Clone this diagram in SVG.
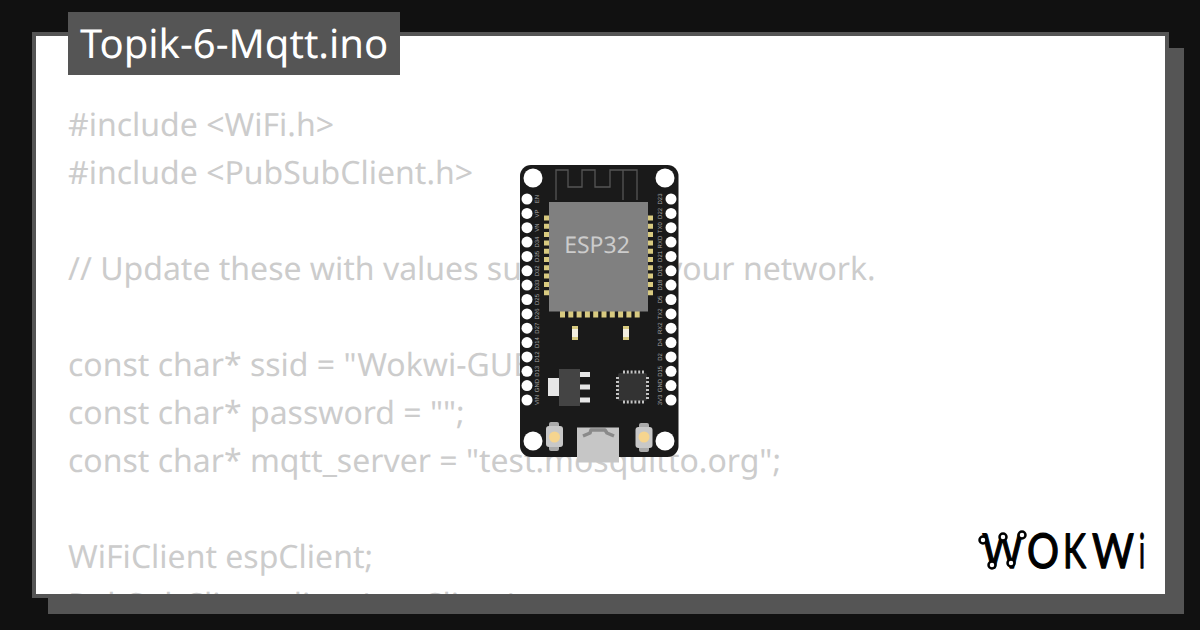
<svg xmlns="http://www.w3.org/2000/svg" width="1200" height="630" viewBox="0 0 1200 630" text-rendering="geometricPrecision">
<style>
.code{font:32px "Noto Sans","Open Sans",sans-serif;fill:#ccc}
.pin{fill:#fff}
.hole{fill:#fff}
.lbl{font:6px "Liberation Sans",sans-serif;fill:#a6a6a6;text-anchor:middle}
.pad{fill:#d8ca80}
.ic{fill:#c4c4c4}
.node{fill:#fff;stroke:#000;stroke-width:2.5}
</style>
<defs>
<clipPath id="panelClip"><rect x="36" y="36" width="1129" height="558"/></clipPath>
</defs>
<rect width="1200" height="630" fill="#111"/>
<rect x="48" y="48" width="1136" height="566" fill="#555"/>
<rect x="34" y="34" width="1133" height="562" fill="#fff" stroke="#555" stroke-width="4"/>
<g id="code" clip-path="url(#panelClip)">
<text class="code" x="68" y="136">#include &lt;WiFi.h&gt;</text>
<text class="code" x="68" y="184">#include &lt;PubSubClient.h&gt;</text>
<text class="code" x="68" y="280">// Update these with values suitable for your network.</text>
<text class="code" x="68" y="376">const char* ssid = "Wokwi-GUEST";</text>
<text class="code" x="68" y="424">const char* password = "";</text>
<text class="code" x="68" y="472">const char* mqtt_server = "test.mosquitto.org";</text>
<text class="code" x="68" y="568">WiFiClient espClient;</text>
<text class="code" x="68" y="616">PubSubClient client(espClient);</text>
</g>
<g id="title">
<rect x="68" y="12" width="332" height="63" fill="#555"/>
<text x="80" y="58" font-family="Noto Sans, Open Sans, sans-serif" font-size="40" fill="#fff">Topik-6-Mqtt.ino</text>
</g>
<g id="board">
<rect x="520" y="165" width="158.500" height="292" rx="11" fill="#1a1a1a"/>
<path d="M556 200V170H568V187H582V170H595V187H610V170H637V200M623 170V200" fill="none" stroke="#555" stroke-width="1.300"/>
<circle class="hole" cx="533" cy="178" r="9.500"/><circle class="hole" cx="665" cy="178" r="9.500"/>
<circle class="hole" cx="533" cy="441" r="9.500"/><circle class="hole" cx="665" cy="441" r="9.500"/>
<g id="pins-left">
<circle class="pin" cx="527" cy="199" r="5.500"/><circle class="pin" cx="527" cy="213.400" r="5.500"/><circle class="pin" cx="527" cy="227.700" r="5.500"/><circle class="pin" cx="527" cy="242.100" r="5.500"/><circle class="pin" cx="527" cy="256.400" r="5.500"/><circle class="pin" cx="527" cy="270.800" r="5.500"/><circle class="pin" cx="527" cy="285.100" r="5.500"/><circle class="pin" cx="527" cy="299.500" r="5.500"/><circle class="pin" cx="527" cy="313.900" r="5.500"/><circle class="pin" cx="527" cy="328.200" r="5.500"/><circle class="pin" cx="527" cy="342.600" r="5.500"/><circle class="pin" cx="527" cy="356.900" r="5.500"/><circle class="pin" cx="527" cy="371.300" r="5.500"/><circle class="pin" cx="527" cy="385.600" r="5.500"/><circle class="pin" cx="527" cy="400" r="5.500"/>
</g>
<g id="pins-right">
<circle class="pin" cx="671" cy="199" r="5.500"/><circle class="pin" cx="671" cy="213.400" r="5.500"/><circle class="pin" cx="671" cy="227.700" r="5.500"/><circle class="pin" cx="671" cy="242.100" r="5.500"/><circle class="pin" cx="671" cy="256.400" r="5.500"/><circle class="pin" cx="671" cy="270.800" r="5.500"/><circle class="pin" cx="671" cy="285.100" r="5.500"/><circle class="pin" cx="671" cy="299.500" r="5.500"/><circle class="pin" cx="671" cy="313.900" r="5.500"/><circle class="pin" cx="671" cy="328.200" r="5.500"/><circle class="pin" cx="671" cy="342.600" r="5.500"/><circle class="pin" cx="671" cy="356.900" r="5.500"/><circle class="pin" cx="671" cy="371.300" r="5.500"/><circle class="pin" cx="671" cy="385.600" r="5.500"/><circle class="pin" cx="671" cy="400" r="5.500"/>
</g>
<g id="labels-left">
<text class="lbl" transform="translate(539 199) rotate(-90)">EN</text><text class="lbl" transform="translate(539 213.400) rotate(-90)">VP</text><text class="lbl" transform="translate(539 227.700) rotate(-90)">VN</text><text class="lbl" transform="translate(539 242.100) rotate(-90)">D34</text><text class="lbl" transform="translate(539 256.400) rotate(-90)">D35</text><text class="lbl" transform="translate(539 270.800) rotate(-90)">D32</text><text class="lbl" transform="translate(539 285.100) rotate(-90)">D33</text><text class="lbl" transform="translate(539 299.500) rotate(-90)">D25</text><text class="lbl" transform="translate(539 313.900) rotate(-90)">D26</text><text class="lbl" transform="translate(539 328.200) rotate(-90)">D27</text><text class="lbl" transform="translate(539 342.600) rotate(-90)">D14</text><text class="lbl" transform="translate(539 356.900) rotate(-90)">D12</text><text class="lbl" transform="translate(539 371.300) rotate(-90)">D13</text><text class="lbl" transform="translate(539 385.600) rotate(-90)">GND</text><text class="lbl" transform="translate(539 400) rotate(-90)">VIN</text>
</g>
<g id="labels-right">
<text class="lbl" transform="translate(662 199) rotate(-90)">D23</text><text class="lbl" transform="translate(662 213.400) rotate(-90)">D22</text><text class="lbl" transform="translate(662 227.700) rotate(-90)">TX0</text><text class="lbl" transform="translate(662 242.100) rotate(-90)">RXD</text><text class="lbl" transform="translate(662 256.400) rotate(-90)">D21</text><text class="lbl" transform="translate(662 270.800) rotate(-90)">D19</text><text class="lbl" transform="translate(662 285.100) rotate(-90)">D18</text><text class="lbl" transform="translate(662 299.500) rotate(-90)">D5</text><text class="lbl" transform="translate(662 313.900) rotate(-90)">TX2</text><text class="lbl" transform="translate(662 328.200) rotate(-90)">RX2</text><text class="lbl" transform="translate(662 342.600) rotate(-90)">D4</text><text class="lbl" transform="translate(662 356.900) rotate(-90)">D2</text><text class="lbl" transform="translate(662 371.300) rotate(-90)">D15</text><text class="lbl" transform="translate(662 385.600) rotate(-90)">GND</text><text class="lbl" transform="translate(662 400) rotate(-90)">3V3</text>
</g>
<g id="pads">
<path class="pad" d="M544 215.500h5v5h-5zM544 223.800h5v5h-5zM544 232.100h5v5h-5zM544 240.400h5v5h-5zM544 248.700h5v5h-5zM544 257h5v5h-5zM544 265.300h5v5h-5zM544 273.600h5v5h-5zM544 281.900h5v5h-5zM544 290.200h5v5h-5z"/>
<path class="pad" d="M648 215.500h5v5h-5zM648 223.800h5v5h-5zM648 232.100h5v5h-5zM648 240.400h5v5h-5zM648 248.700h5v5h-5zM648 257h5v5h-5zM648 265.300h5v5h-5zM648 273.600h5v5h-5zM648 281.900h5v5h-5zM648 290.200h5v5h-5z"/>
<path class="pad" d="M560 311h5v6.500h-5zM568.300 311h5v6.500h-5zM576.600 311h5v6.500h-5zM584.900 311h5v6.500h-5zM593.200 311h5v6.500h-5zM601.500 311h5v6.500h-5zM609.800 311h5v6.500h-5zM618.100 311h5v6.500h-5zM626.400 311h5v6.500h-5zM634.700 311h5v6.500h-5z"/>
</g>
<rect x="549" y="202" width="99" height="109.500" fill="#808080"/>
<text x="597" y="253" text-anchor="middle" font-family="Noto Sans, sans-serif" font-size="23" fill="#ccc">ESP32</text>
<g id="resistors">
<rect x="572" y="326" width="6" height="14" fill="#d8ca80"/><rect x="572" y="329" width="6" height="8" fill="#f3eee0"/>
<rect x="623" y="326" width="6" height="14" fill="#d8ca80"/><rect x="623" y="329" width="6" height="8" fill="#f3eee0"/>
</g>
<g id="regulator">
<rect x="548" y="378" width="11" height="18" fill="#e6e6e6"/>
<rect x="559" y="369" width="21" height="37" fill="#444"/>
<rect x="580" y="372" width="10" height="5" fill="#e6e6e6"/><rect x="580" y="384.500" width="10" height="5" fill="#e6e6e6"/><rect x="580" y="397.500" width="10" height="5" fill="#e6e6e6"/>
</g>
<g id="qfn">
<rect x="618" y="373" width="29" height="28" rx="2" fill="#333"/>
<path class="ic" d="M623 370.500h2v3h-2zM626.800 370.500h2v3h-2zM630.600 370.500h2v3h-2zM634.400 370.500h2v3h-2zM638.200 370.500h2v3h-2zM642 370.500h2v3h-2zM623 400.500h2v3h-2zM626.800 400.500h2v3h-2zM630.600 400.500h2v3h-2zM634.400 400.500h2v3h-2zM638.200 400.500h2v3h-2zM642 400.500h2v3h-2zM616 377h3v2h-3zM616 381h3v2h-3zM616 385h3v2h-3zM616 389h3v2h-3zM616 393h3v2h-3zM616 397h3v2h-3zM646 377h3v2h-3zM646 381h3v2h-3zM646 385h3v2h-3zM646 389h3v2h-3zM646 393h3v2h-3zM646 397h3v2h-3z"/>
</g>
<g id="buttons">
<rect x="549" y="422" width="10" height="29" rx="2" fill="#aaa"/><rect x="546" y="426" width="17" height="21" rx="3" fill="#c8c8c8"/><circle cx="554.500" cy="437" r="5.500" fill="#f6d58f"/>
<rect x="639" y="423" width="10" height="29" rx="2" fill="#aaa"/><rect x="635.500" y="427" width="17" height="21" rx="3" fill="#c8c8c8"/><circle cx="644" cy="437" r="5.500" fill="#f6d58f"/>
</g>
<g id="usb">
<rect x="577" y="427.500" width="42" height="35" fill="#c6c6c6"/>
<path d="M583 436L590 433 591 430H605L607 433 614 436" fill="none" stroke="#8a8a8a" stroke-width="3.500" stroke-linejoin="round"/>
</g>
</g>
<g id="logo">
<text font-family="Lato, sans-serif" font-size="48" fill="#000" stroke="#000" stroke-width="1.300" stroke-linejoin="round" y="568"><tspan x="982" textLength="41" lengthAdjust="spacingAndGlyphs">W</tspan><tspan x="1027" textLength="32" lengthAdjust="spacingAndGlyphs">O</tspan><tspan x="1063" textLength="23" lengthAdjust="spacingAndGlyphs">K</tspan><tspan x="1092" textLength="42" lengthAdjust="spacingAndGlyphs">W</tspan><tspan x="1139" textLength="6" lengthAdjust="spacingAndGlyphs">i</tspan></text>
<circle class="node" cx="983" cy="540" r="3.500"/><circle class="node" cx="1003" cy="537" r="3.500"/><circle class="node" cx="1022" cy="535" r="3.500"/><circle class="node" cx="992" cy="565" r="3.500"/><circle class="node" cx="1011" cy="563" r="3.500"/>
</g>
</svg>
